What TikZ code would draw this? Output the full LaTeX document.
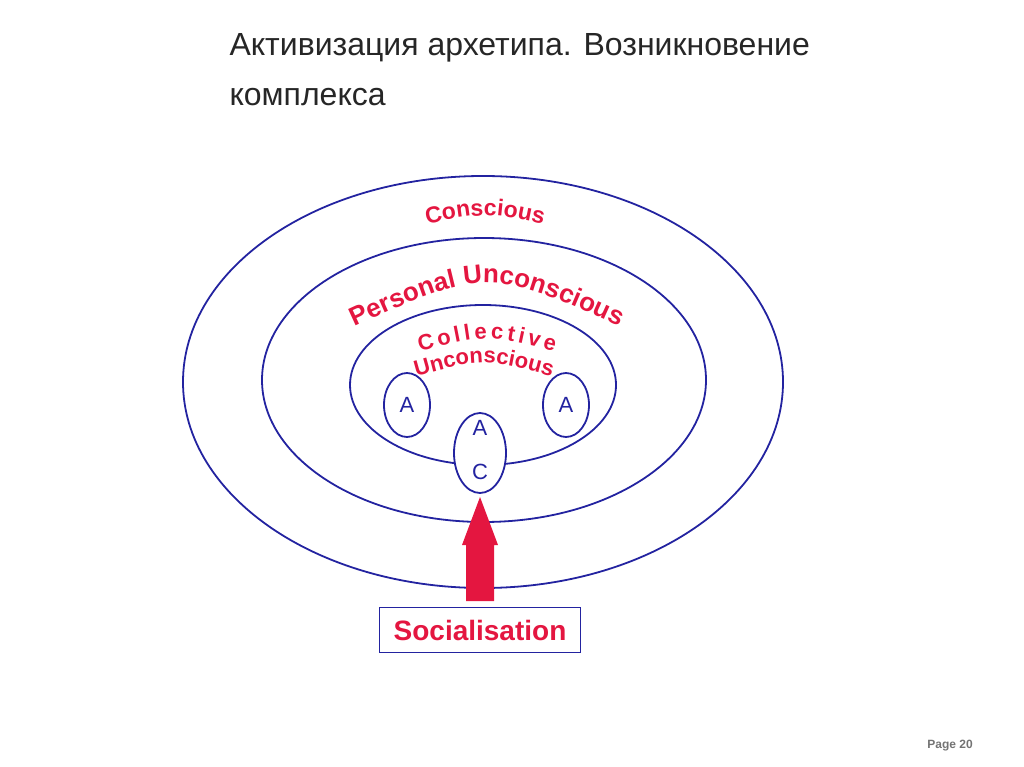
\documentclass[tikz,border=0pt]{standalone}
\usepackage{fontspec}
\setmainfont{Liberation Sans}
\usetikzlibrary{decorations.text}
\definecolor{myred}{RGB}{228,22,64}
\definecolor{myblue}{RGB}{35,35,160}
\tikzset{
  ring/.style={draw=myblue,line width=1.8pt},
  curv/.style={decorate,decoration={text along path,text align=center,text={#1}}}
}
\begin{document}
\begin{tikzpicture}[x=1pt,y=-1pt]
\useasboundingbox (0,0) rectangle (1024,767);
\node[anchor=base west,font=\fontsize{32}{34}\selectfont,text=black!85] (t1) at (226,56) {Активизация архетипа. Возникновение};
\node[anchor=base west,font=\fontsize{32}{34}\selectfont,text=black!85] (t2) at (226,106) {комплекса};
\draw[ring] (483,382) ellipse [x radius=300,y radius=206];
\draw[ring] (484,380) ellipse [x radius=222,y radius=142];
\draw[ring] (483,385) ellipse [x radius=133,y radius=80];
\draw[ring] (407,405) ellipse [x radius=23,y radius=32];
\draw[ring] (566,405) ellipse [x radius=23,y radius=32];
\draw[ring,fill=white] (480,453) ellipse [x radius=26,y radius=40];
\node[font=\fontsize{22}{24}\selectfont,text=myblue] (a1) at (407,405) {A};
\node[font=\fontsize{22}{24}\selectfont,text=myblue] (a2) at (566,405) {A};
\node[font=\fontsize{22}{24}\selectfont,text=myblue] (a3) at (480,428) {A};
\node[font=\fontsize{22}{24}\selectfont,text=myblue] (c3) at (480,472) {C};
\path[curv={|\fontsize{23}{24}\selectfont\bfseries\color{myred}|Conscious}] (395,232) .. controls (485,210) .. (575,232);
\path[curv={|\fontsize{26}{28}\selectfont\bfseries\color{myred}|Personal Unconscious}] (332,337) .. controls (487,265) .. (642,337);
\path[curv={|\fontsize{22}{24}\selectfont\bfseries\color{myred}|C{\,}o{\,}l{\,}l{\,}e{\,}c{\,}t{\,}i{\,}v{\,}e}] (410,354) .. controls (487,334) .. (564,354);
\path[curv={|\fontsize{22}{24}\selectfont\bfseries\color{myred}|Unconscious}] (400,381) .. controls (484,357) .. (568,381);
\node[draw=myblue,line width=1.8pt,minimum width=201,minimum height=45,font=\fontsize{28}{30}\selectfont\bfseries,text=myred] (soc) at (480,630) {Socialisation};
\coordinate (tip) at (480,497);
\fill[myred] (466,601) -- (466,545) -- (462,545) -- (tip) -- (498,545) -- (494,545) -- (494,601) -- cycle;
\node[font=\fontsize{12}{14}\selectfont\bfseries,text=black!55] (pg) at (950,746) {Page 20};
\end{tikzpicture}
\end{document}
